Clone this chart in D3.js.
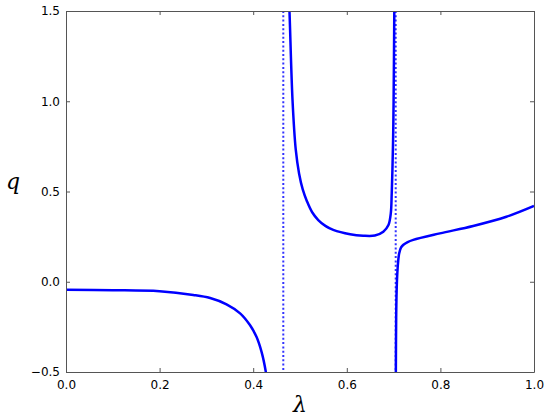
<html lang="en">
<head>
  <meta charset="UTF-8" />
  <title>q vs lambda</title>
  <style>
    body, html { margin: 0; padding: 0; background: white; }
    .tick text { font-family: "DejaVu Sans", sans-serif; font-size: 12px; fill: #000; }
    .axis-label { font-family: "DejaVu Serif", serif; font-style: italic; font-size: 22px; }
  </style>
</head>
<body>
  <div id="canvas"></div>
  <script src="https://cdn.jsdelivr.net/npm/d3@7"></script>
  <script>
    // branch values
    const lamLeft = [0, 0.1, 0.2, 0.272, 0.308, 0.343, 0.372, 0.393, 0.407, 0.418, 0.427, 0.432];
    const qLeft = [-0.045, -0.047, -0.053, -0.073, -0.09, -0.125, -0.175, -0.24, -0.305, -0.39, -0.5, -0.6];

    const lamMid = [0.475, 0.4775, 0.484, 0.491, 0.498, 0.506, 0.515, 0.526, 0.539, 0.555, 0.571, 0.607, 0.635, 0.66, 0.678, 0.689, 0.694, 0.696, 0.6975, 0.699, 0.7, 0.7015, 0.702];
    const qMid = [1.65, 1.5, 1.007, 0.73, 0.6, 0.51, 0.445, 0.385, 0.342, 0.308, 0.287, 0.263, 0.255, 0.256, 0.277, 0.314, 0.379, 0.49, 0.62, 0.8, 1.0, 1.5, 1.7];

    const lamRight = [0.7046, 0.7048, 0.7055, 0.7065, 0.708, 0.71, 0.712, 0.716, 0.721, 0.73, 0.742, 0.799, 0.87, 0.941, 1.0];
    const qRight = [-0.6, -0.5, -0.2, -0.05, 0.05, 0.12, 0.158, 0.19, 0.205, 0.22, 0.232, 0.268, 0.309, 0.36, 0.42];

    const asymptotes = [0.4643, 0.7045];

    const xTicks = [0.0, 0.2, 0.4, 0.6, 0.8, 1.0];
    const yTicks = [-0.5, 0.0, 0.5, 1.0, 1.5];

    const w = 550, h = 419;
    const margin = { top: 11, left: 66, right: 16, bottom: 47 };
    const width = w - margin.left - margin.right;
    const height = h - margin.top - margin.bottom;

    const svg = d3.select("#canvas").append("svg")
      .attr("width", w).attr("height", h);

    const chart = svg.append("g")
      .attr("transform", "translate(" + margin.left + "," + margin.top + ")");

    const x = d3.scaleLinear().domain([0, 1]).range([0, width]);
    const y = d3.scaleLinear().domain([-0.5, 1.5]).range([height, 0]);

    chart.append("clipPath").attr("id", "clip")
      .append("rect").attr("width", width).attr("height", height);

    const plot = chart.append("g").attr("clip-path", "url(#clip)");

    // dotted asymptotes
    plot.selectAll(".asym")
      .data(asymptotes)
      .enter().append("line")
      .attr("class", "asym")
      .attr("x1", d => x(d)).attr("x2", d => x(d))
      .attr("y1", 0).attr("y2", height)
      .attr("stroke", "#0000ff")
      .attr("stroke-opacity", 0.8)
      .attr("stroke-width", 2)
      .attr("stroke-dasharray", "2,2.3");

    const line = d3.line()
      .x(d => x(d[0])).y(d => y(d[1]))
      .curve(d3.curveCatmullRom.alpha(0.5));

    const branches = [
      d3.zip(lamLeft, qLeft),
      d3.zip(lamMid, qMid),
      d3.zip(lamRight, qRight)
    ];

    plot.selectAll(".branch")
      .data(branches)
      .enter().append("path")
      .attr("class", "branch")
      .attr("d", line)
      .attr("fill", "none")
      .attr("stroke", "#0000ff")
      .attr("stroke-width", 2.5);

    // axes, ticks inward on all four sides
    const axBottom = chart.append("g")
      .attr("transform", "translate(0," + height + ")")
      .call(d3.axisBottom(x).tickValues(xTicks).tickFormat(d3.format(".1f")).tickSizeInner(-4).tickSizeOuter(0).tickPadding(8));
    const axTop = chart.append("g")
      .call(d3.axisTop(x).tickValues(xTicks).tickFormat("").tickSizeInner(-4).tickSizeOuter(0));
    const axLeft = chart.append("g")
      .call(d3.axisLeft(y).tickValues(yTicks).tickFormat(d => d3.format(".1f")(d).replace("-", "\u2212")).tickSizeInner(-4).tickSizeOuter(0).tickPadding(6));
    const axRight = chart.append("g")
      .attr("transform", "translate(" + width + ",0)")
      .call(d3.axisRight(y).tickValues(yTicks).tickFormat("").tickSizeInner(-4).tickSizeOuter(0));

    [axBottom, axTop, axLeft, axRight].forEach(g => {
      g.select(".domain").attr("stroke", "#555").attr("stroke-width", 1);
      g.selectAll(".tick line").attr("stroke", "#555");
    });

    chart.append("text")
      .attr("class", "axis-label")
      .attr("x", width / 2).attr("y", height + 40)
      .attr("text-anchor", "middle")
      .text("\u03bb");

    chart.append("text")
      .attr("class", "axis-label")
      .attr("x", -60).attr("y", height / 2 - 3)
      .attr("text-anchor", "start")
      .text("q");
  </script>
</body>
</html>
